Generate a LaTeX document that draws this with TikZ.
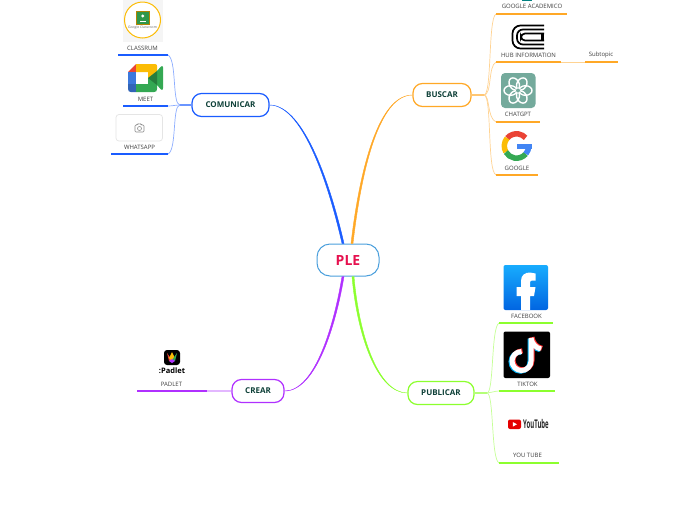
\documentclass[tikz,border=0pt]{standalone}
\usepackage{fontspec}
\setmainfont{Open Sans}
\usepackage{tikz}
\usetikzlibrary{positioning,shapes.geometric}
\definecolor{inktext}{HTML}{0E4038}
\definecolor{plered}{HTML}{E6114F}
\definecolor{pleline}{HTML}{4A9FDC}
\definecolor{combl}{HTML}{1A5CFF}
\definecolor{busor}{HTML}{FFA826}
\definecolor{pubgr}{HTML}{8CFF2E}
\definecolor{crepu}{HTML}{B030FF}
\definecolor{gred}{HTML}{EA4335}
\definecolor{gyel}{HTML}{FBBC05}
\definecolor{ggre}{HTML}{34A853}
\definecolor{gblu}{HTML}{4285F4}
\definecolor{gptgr}{HTML}{74AA9C}
\definecolor{fbtop}{HTML}{18ACFE}
\definecolor{fbbot}{HTML}{0165E1}
\tikzset{
  mainbox/.style={draw=pleline,fill=white,rounded corners=13,line width=1,minimum width=62,minimum height=32,
    text=plered,font=\fontsize{14}{14}\selectfont\bfseries},
  topicbox/.style={draw=#1,fill=white,rounded corners=9.5,line width=1.2,minimum height=23,inner sep=0,
    text=inktext,font=\fontsize{8}{8}\selectfont\bfseries},
  leaftext/.style={inner sep=0,text=black!75,font=\fontsize{6}{6}\selectfont},
  underl/.style={draw=#1,line width=1.6},
  twig/.style={draw=#1!50,line width=.7},
  stem/.style={draw=#1!65,line width=1.6},
  trunk/.style={draw=#1,fill=#1,line width=.4}
}
\begin{document}
\begin{tikzpicture}[x=1pt,y=-1pt]
  \useasboundingbox[fill=white] (0,0) rectangle (696,520);

  % main nodes
  \node[mainbox] (ple) at (348,260) {PLE};
  \node[topicbox=combl,minimum width=77] (comunicar) at (230.5,105) {COMUNICAR};
  \node[topicbox=busor,minimum width=58] (buscar) at (442,95) {BUSCAR};
  \node[topicbox=pubgr,minimum width=66] (publicar) at (441,393) {PUBLICAR};
  \node[topicbox=crepu,minimum width=52] (crear) at (258,391) {CREAR};

  % leaf labels
  \node[leaftext] (classrum) at (142.5,48) {CLASSRUM};
  \node[leaftext] (meet) at (145.5,99.5) {MEET};
  \node[leaftext] (whatsapp) at (139.5,147) {WHATSAPP};
  \node[leaftext] (academico) at (532,6.5) {GOOGLE ACADEMICO};
  \node[leaftext] (hub) at (528.5,55) {HUB INFORMATION};
  \node[leaftext] (subtopic) at (601,55) {Subtopic};
  \node[leaftext] (chatgpt) at (518,114) {CHATGPT};
  \node[leaftext] (google) at (517,168) {GOOGLE};
  \node[leaftext] (facebook) at (526.5,316) {FACEBOOK};
  \node[leaftext] (tiktok) at (527.5,384.5) {TIKTOK};
  \node[leaftext] (youtube) at (527.5,455.5) {YOU TUBE};
  \node[leaftext] (padlet) at (171.5,384) {PADLET};

  % free ends of the underlines
  \coordinate (clA) at (118,55);     \coordinate (clB) at (168,55);
  \coordinate (meA) at (123,106);    \coordinate (meB) at (168,106);
  \coordinate (waA) at (111,154);    \coordinate (waB) at (168,154);
  \coordinate (acA) at (496,14);     \coordinate (acB) at (567,14);
  \coordinate (huA) at (496,62);     \coordinate (huB) at (561,62);
  \coordinate (suA) at (585,62);     \coordinate (suB) at (618,62);
  \coordinate (chA) at (496,122);    \coordinate (chB) at (540,122);
  \coordinate (goA) at (496,175);    \coordinate (goB) at (538,175);
  \coordinate (faA) at (499,323);    \coordinate (faB) at (553,323);
  \coordinate (tiA) at (499,391);    \coordinate (tiB) at (555,391);
  \coordinate (yoA) at (499,463);    \coordinate (yoB) at (559,463);
  \coordinate (paA) at (137,391);    \coordinate (paB) at (207,391);
  \coordinate (comjoin) at (180,105);
  \coordinate (busjoin) at (484,95);
  \coordinate (pubjoin) at (487,393);

  % trunks, wide at the centre
  \draw[trunk=combl] ([xshift=-6]ple.north) .. controls (331,195) and (305,105) .. (comunicar.east)
    .. controls (306,105) and (333,195) .. ([xshift=-4]ple.north) -- cycle;
  \draw[trunk=busor] ([xshift=3]ple.north) .. controls (356,200) and (372,95) .. (buscar.west)
    .. controls (373,95) and (358,200) .. ([xshift=5]ple.north) -- cycle;
  \draw[trunk=crepu] ([xshift=-6]ple.south) .. controls (334,325) and (315,391) .. (crear.east)
    .. controls (316,391) and (336,325) .. ([xshift=-4]ple.south) -- cycle;
  \draw[trunk=pubgr] ([xshift=6]ple.south) .. controls (359,335) and (378,393) .. (publicar.west)
    .. controls (377,393) and (357,335) .. ([xshift=4]ple.south) -- cycle;

  % stems and twigs
  \draw[stem=combl] (comunicar.west) -- (comjoin);
  \draw[twig=combl] (comjoin) .. controls (172,105) and (177,60) .. (clB);
  \draw[twig=combl] (comjoin) .. controls (176,105) and (172,106) .. (meB);
  \draw[twig=combl] (comjoin) .. controls (172,105) and (177,150) .. (waB);
  \draw[stem=busor] (buscar.east) -- (busjoin);
  \draw[twig=busor] (busjoin) .. controls (492,95) and (488,18) .. (acA);
  \draw[twig=busor] (busjoin) .. controls (492,95) and (488,66) .. (huA);
  \draw[twig=busor] (busjoin) .. controls (490,95) and (487,118) .. (chA);
  \draw[twig=busor] (busjoin) .. controls (492,95) and (487,171) .. (goA);
  \draw[twig=busor] (huB) -- (suA);
  \draw[stem=pubgr] (publicar.east) -- (pubjoin);
  \draw[twig=pubgr] (pubjoin) .. controls (494,393) and (491,327) .. (faA);
  \draw[twig=pubgr] (pubjoin) .. controls (491,393) and (494,391) .. (tiA);
  \draw[twig=pubgr] (pubjoin) .. controls (494,393) and (491,459) .. (yoA);
  \draw[draw=crepu!35,line width=1.6] (crear.west) -- (paB);

  % underlines
  \foreach \a/\b in {clA/clB,meA/meB,waA/waB} \draw[underl=combl] (\a) -- (\b);
  \foreach \a/\b in {acA/acB,huA/huB,suA/suB,chA/chB,goA/goB} \draw[underl=busor] (\a) -- (\b);
  \foreach \a/\b in {faA/faB,tiA/tiB,yoA/yoB} \draw[underl=pubgr] (\a) -- (\b);
  \draw[underl=crepu] (paA) -- (paB);

  % classroom icon
  \fill[black!4] (123,0) rectangle (163,42);
  \draw[gyel,line width=1,fill=white] (142.5,20) circle[radius=18];
  \fill[gyel!70!black] (135.5,11) rectangle (150,24.5);
  \fill[ggre!90!black] (136.5,12) rectangle (149,23.5);
  \fill[white] (142.7,16) circle[radius=1.6];
  \fill[white] (139.5,21) rectangle (146,22.3);
  \node[inner sep=0,text=black!60,font=\fontsize{3.4}{3.4}\selectfont] (classlogo) at (142.5,27.5) {Google Classroom};

  % meet icon
  \fill[gred] (128,72) -- (136,64) -- (136,72) -- cycle;
  \fill[gyel] (136,64) -- (155,64) .. controls (156.5,64) and (157,65) .. (157,66) -- (157,78) -- (148,78) -- (148,72) -- (136,72) -- cycle;
  \fill[gblu!90!black] (128,72) rectangle (136,84);
  \fill[gblu!75!black] (128,84) -- (136,84) -- (136,92) -- (131,92) .. controls (129,92) and (128,91) .. (128,89) -- cycle;
  \fill[ggre] (136,84) -- (148,84) -- (148,78) -- (157,78) -- (157,89) .. controls (157,91) and (156,92) .. (154,92) -- (136,92) -- cycle;
  \fill[ggre] (157,71) -- (161,66.5) .. controls (162,65.5) and (163,66) .. (163,67.5) -- (163,88) .. controls (163,90) and (162,90.5) .. (161,89.5) -- (157,85) -- cycle;
  \fill[ggre!75!black] (148,78) -- (157,71) -- (157,85) -- cycle;

  % whatsapp placeholder
  \draw[black!10,fill=white,rounded corners=3,line width=.7] (116,114.5) rectangle (162.5,141);
  \draw[black!45,line width=.6,rounded corners=1] (135,125) -- (137,125) -- (137.7,123.8) -- (140.8,123.8) -- (141.5,125) -- (144,125) -- (144,132) -- (135,132) -- cycle;
  \draw[black!45,line width=.6] (139.5,128.5) circle[radius=2];

  % hub icon
  \draw[black,line width=1.7,rounded corners=8] (544,25.5) -- (512.5,25.5) -- (512.5,48.5) -- (544,48.5);
  \draw[black,line width=1.7,rounded corners=6] (544,29.5) -- (517,29.5) -- (517,44.5) -- (544,44.5);
  \draw[black,line width=1.7,rounded corners=4] (544,33.5) -- (521,33.5) -- (521,40.5) -- (544,40.5);
  \fill[black] (541,33) rectangle (544,41);

  % chatgpt icon
  \fill[gptgr,rounded corners=4] (501,73) rectangle (535.5,108);
  \foreach \ang in {0,60,...,300}
    \draw[white,line width=1.4,rotate around={\ang:(518,90.5)}] (525.5,90.5) ellipse[x radius=6.5,y radius=4.8];
  \fill[gptgr] (518,90.5) circle[radius=2];

  % google icon
  \foreach \colr/\sa/\ea in {gred/-140/-42,gyel/150/220,ggre/40/150,gblu/0/40}
    \draw[\colr,line width=5.5] ([shift={(\sa:12.2)}]516.5,146) arc[start angle=\sa,end angle=\ea,radius=12.2];
  \fill[gblu] (517,143.5) rectangle (531.5,149);

  % facebook icon
  \shade[top color=fbtop,bottom color=fbbot,rounded corners=2] (503.5,265) rectangle (548,310);
  \fill[white] (521,310) -- (521,296) -- (516.5,296) -- (516.5,287) -- (521,287) -- (521,281)
    .. controls (521,275) and (525,272.5) .. (530,272.5) -- (535.5,273.5) -- (535.5,280.5) -- (532,280.5)
    .. controls (530.5,280.5) and (530,281.5) .. (530,283) -- (530,287) -- (535.5,287) -- (534,296) -- (530,296) -- (530,310) -- cycle;

  % tiktok icon
  \fill[black,rounded corners=2] (503.5,331.5) rectangle (550,378);
  \foreach \colr/\dx/\dy in {cyan/-1/-.7,red!80!white/1/.7,white/0/0}
    \draw[\colr,line width=5,xshift=\dx,yshift=\dy] (531,338) -- (531,361)
      arc[start angle=0,end angle=270,radius=9.5]
      (531,338) .. controls (532,344) and (536,348) .. (541,349);

  % youtube icon
  \fill[red!90!black,rounded corners=2] (508,419.5) rectangle (521,429);
  \fill[white] (512.8,422) -- (517,424.3) -- (512.8,426.6) -- cycle;
  \node[inner sep=0,xscale=.6,yscale=1.2,text=black!85,font=\fontsize{10}{10}\selectfont\bfseries] (ytlogo) at (536,424) {YouTube};

  % padlet icon
  \fill[black,rounded corners=3] (164,350) rectangle (180,365);
  \fill[gred] (167,353) -- (172,360) -- (169,361) -- cycle;
  \fill[gyel] (172,352) -- (175,358) -- (172,361) -- (169,358) -- cycle;
  \fill[ggre] (177,353) -- (175,361) -- (172,360) -- cycle;
  \fill[crepu] (169,361) -- (172,359) -- (175,361) -- (172,363) -- cycle;
  \node[inner sep=0,text=black,font=\fontsize{7.5}{7.5}\selectfont\bfseries] (padletlogo) at (172,370.5) {:Padlet};

  % academico icon, cut by the page
  \fill[teal] (522,-2) rectangle (532,1);
\end{tikzpicture}
\end{document}
